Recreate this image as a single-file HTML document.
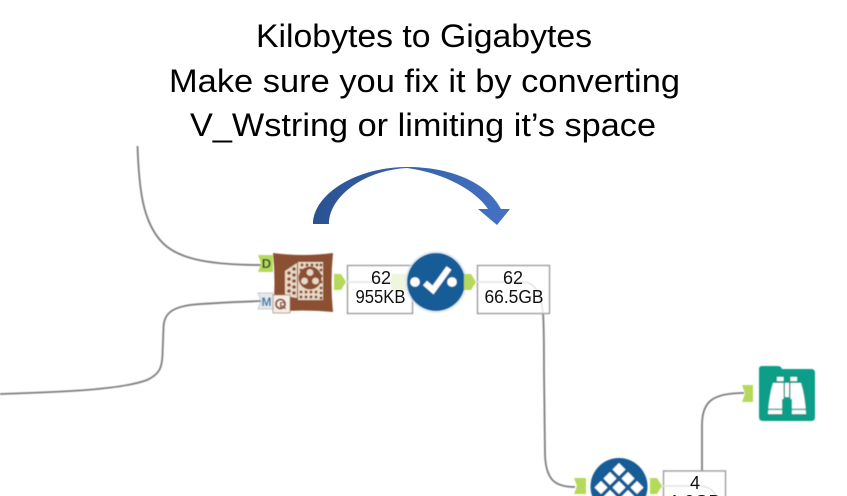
<!DOCTYPE html>
<html><head><meta charset="utf-8"><style>
html,body{margin:0;padding:0;background:#fff;width:847px;height:496px;overflow:hidden}
svg{display:block}
text{font-family:"Liberation Sans",sans-serif}
</style></head><body>
<svg width="847" height="496" viewBox="0 0 847 496" xmlns="http://www.w3.org/2000/svg">
<defs>
<linearGradient id="g" x1="0" x2="1" y1="0" y2="0"><stop offset="0" stop-color="#2b5291"/><stop offset="1" stop-color="#4472c4"/></linearGradient>
<filter id="b" x="-5%" y="-5%" width="110%" height="110%"><feGaussianBlur stdDeviation="0.4"/></filter>
</defs>
<g fill="#000" font-size="32" text-anchor="start">
<text x="256" y="47" textLength="336" lengthAdjust="spacingAndGlyphs">Kilobytes to Gigabytes</text>
<text x="169" y="92" textLength="511" lengthAdjust="spacingAndGlyphs">Make sure you fix it by converting</text>
<text x="190" y="136" textLength="466" lengthAdjust="spacingAndGlyphs">V_Wstring or limiting it’s space</text>
</g>
<path d="M313 224C313 195 355 167 407 167C450 167 487 182 501 209L510 209L497 225L478 209L488 209C476 191 445 173 407 168C365 170 329 196 329 224Z" fill="url(#g)"/>
<g filter="url(#b)">
<g fill="none" stroke="#7e7e7e" stroke-width="1.800">
<path d="M137.500 146C139 190 143 220 160 240C175 258 205 265 262 265"/>
<path d="M0 394C60 392 120 390 147 380C160 374 162 367 162.500 355L163.500 327C164 315 170 308 190 305C210 303 235 302 262 301"/>
<path d="M543 313C544 325 544 340 544 370L545 455C546 480 555 487 575 487"/>
<path d="M702 471L702 425C702 402 712 393 744 393"/>
</g>
<path d="M258 255H273V272H258L261 263.500Z" fill="#b5d95a"/>
<text x="266.500" y="268" font-size="13" font-weight="bold" text-anchor="middle" fill="#2f4f30">D</text>
<path d="M258 293H273V309H258L261 301Z" fill="#e6e8ea" stroke="#bbb" stroke-width=".7"/>
<text x="266.500" y="306" font-size="12" font-weight="bold" text-anchor="middle" fill="#2a7ea8">M</text>
<path d="M273 253Q303 257 333 253Q330 283 333 312Q303 309 273 312Q276 283 273 253Z" fill="#8b4f30"/>
<path d="M285 271L297 263V298L285 296Z" fill="#e9d8c8"/>
<rect x="298" y="262" width="25" height="38" fill="#e9d8c8"/>
<g fill="#8b4f30">
<circle cx="289" cy="273" r="1.800"/><circle cx="294" cy="269" r="1.800"/><circle cx="289" cy="279" r="1.800"/><circle cx="294" cy="275" r="1.800"/><circle cx="289" cy="285" r="1.800"/><circle cx="294" cy="281" r="1.800"/><circle cx="289" cy="291" r="1.800"/><circle cx="294" cy="287" r="1.800"/><circle cx="294" cy="293" r="1.800"/>
<circle cx="302" cy="265" r="1.500"/><circle cx="307" cy="265" r="1.500"/><circle cx="312" cy="265" r="1.500"/><circle cx="317" cy="265" r="1.500"/><circle cx="321" cy="265" r="1.500"/><circle cx="321" cy="270" r="1.500"/><circle cx="321" cy="276" r="1.500"/><circle cx="321" cy="282" r="1.500"/><circle cx="321" cy="288" r="1.500"/><circle cx="301" cy="270" r="1.500"/><circle cx="301" cy="276" r="1.500"/><circle cx="301" cy="282" r="1.500"/>
<circle cx="301" cy="292" r="1.500"/><circle cx="306" cy="292" r="1.500"/><circle cx="311" cy="292" r="1.500"/><circle cx="316" cy="292" r="1.500"/><circle cx="321" cy="293" r="1.500"/><circle cx="301" cy="297" r="1.500"/><circle cx="306" cy="297" r="1.500"/><circle cx="311" cy="297" r="1.500"/><circle cx="316" cy="297" r="1.500"/><circle cx="321" cy="298" r="1.500"/>
<circle cx="310" cy="278" r="11.500"/>
</g>
<g fill="#e9d8c8"><circle cx="310" cy="272.500" r="3.400"/><circle cx="304.500" cy="281" r="3.400"/><circle cx="315.500" cy="281" r="3.400"/></g>
<rect x="273" y="295" width="17" height="18" fill="#f4ece6" stroke="#a67c62" stroke-width=".7"/>
<circle cx="280.500" cy="304" r="4.500" fill="none" stroke="#8b4f30" stroke-width="1.800"/>
<text x="283" y="309" font-size="10" font-weight="bold" text-anchor="middle" fill="#8b4f30">R</text>
<path d="M334 274H341L346 282L341 290H334Z" fill="#b5d95a"/>
<rect x="347.500" y="265.500" width="65" height="48" fill="#fff" stroke="#a0a0a0" stroke-width="1.500"/>
<path d="M346 282H395" stroke="#e2e2e2" stroke-width="1.500" fill="none"/>
<rect x="391" y="274" width="20" height="16" fill="#eef6dc"/>
<circle cx="436" cy="282" r="31" fill="#d4e6f3" opacity=".7"/>
<circle cx="436" cy="282" r="29" fill="#135c96"/>
<circle cx="415" cy="282" r="4.800" fill="#fff"/><circle cx="452" cy="282" r="4.800" fill="#fff"/>
<path d="M425 283L433 290L449 268" fill="none" stroke="#fff" stroke-width="6"/>
<path d="M464 274H471L476 282L471 290H464Z" fill="#b5d95a"/>
<rect x="477.500" y="265.500" width="72" height="48" fill="#fff" stroke="#a0a0a0" stroke-width="1.500"/>
<path d="M476 282H525Q540 284 543 313" stroke="#e2e2e2" stroke-width="1.500" fill="none"/>
<path d="M574 478H586V494H574L577 486Z" fill="#b5d95a"/>
<circle cx="619" cy="486.500" r="28.500" fill="#135c96"/>
<g fill="#fff">
<path d="M619 463L625.500 469.500L619 476L612.500 469.500Z"/>
<path d="M610 472L616.500 478.500L610 485L603.500 478.500Z"/><path d="M628 472L634.500 478.500L628 485L621.500 478.500Z"/>
<path d="M601 481L607.500 487.500L601 494L594.500 487.500Z"/><path d="M619 481L625.500 487.500L619 494L612.500 487.500Z"/><path d="M637 481L643.500 487.500L637 494L630.500 487.500Z"/>
<path d="M610 490L616.500 496.500L610 503L603.500 496.500Z"/><path d="M628 490L634.500 496.500L628 503L621.500 496.500Z"/>
</g>
<path d="M650 478H657L662 486L657 494H650Z" fill="#b5d95a"/>
<rect x="663.500" y="471" width="62" height="40" fill="#fff" stroke="#a0a0a0" stroke-width="1.500"/>
<path d="M662 486H700Q712 487 716 496" stroke="#e2e2e2" stroke-width="1.500" fill="none"/>
<path d="M742 385H753V402H742L745 393.500Z" fill="#b5d95a"/>
<path d="M762 366H778Q781 366 782 369H811Q815 369 815 373V417Q815 421 811 421H763Q759 421 759 417V369Q759 366 762 366Z" fill="#0e9e8a"/>
<g fill="#fff">
<rect x="777" y="377" width="6.500" height="4"/><rect x="790.500" y="377" width="6.500" height="4"/>
<path d="M773 383H783.500V399H782V414H768Q769 396 773 383Z"/>
<path d="M790.500 383H801Q805 396 806 414H792V399H790.500Z"/>
<rect x="785" y="383" width="4" height="14"/>
</g>
<rect x="768" y="408.500" width="14" height="1.600" fill="#0e9e8a" opacity=".8"/>
<rect x="792" y="408.500" width="14" height="1.600" fill="#0e9e8a" opacity=".8"/>
</g>
<g fill="#111" font-size="18" text-anchor="middle">
<text x="381" y="284">62</text>
<text x="380.500" y="303" textLength="50" lengthAdjust="spacingAndGlyphs">955KB</text>
<text x="513" y="284">62</text>
<text x="514" y="303" textLength="59" lengthAdjust="spacingAndGlyphs">66.5GB</text>
<text x="695" y="489">4</text>
<text x="695" y="508">1.9GB</text>
</g>
</svg>
</body></html>
